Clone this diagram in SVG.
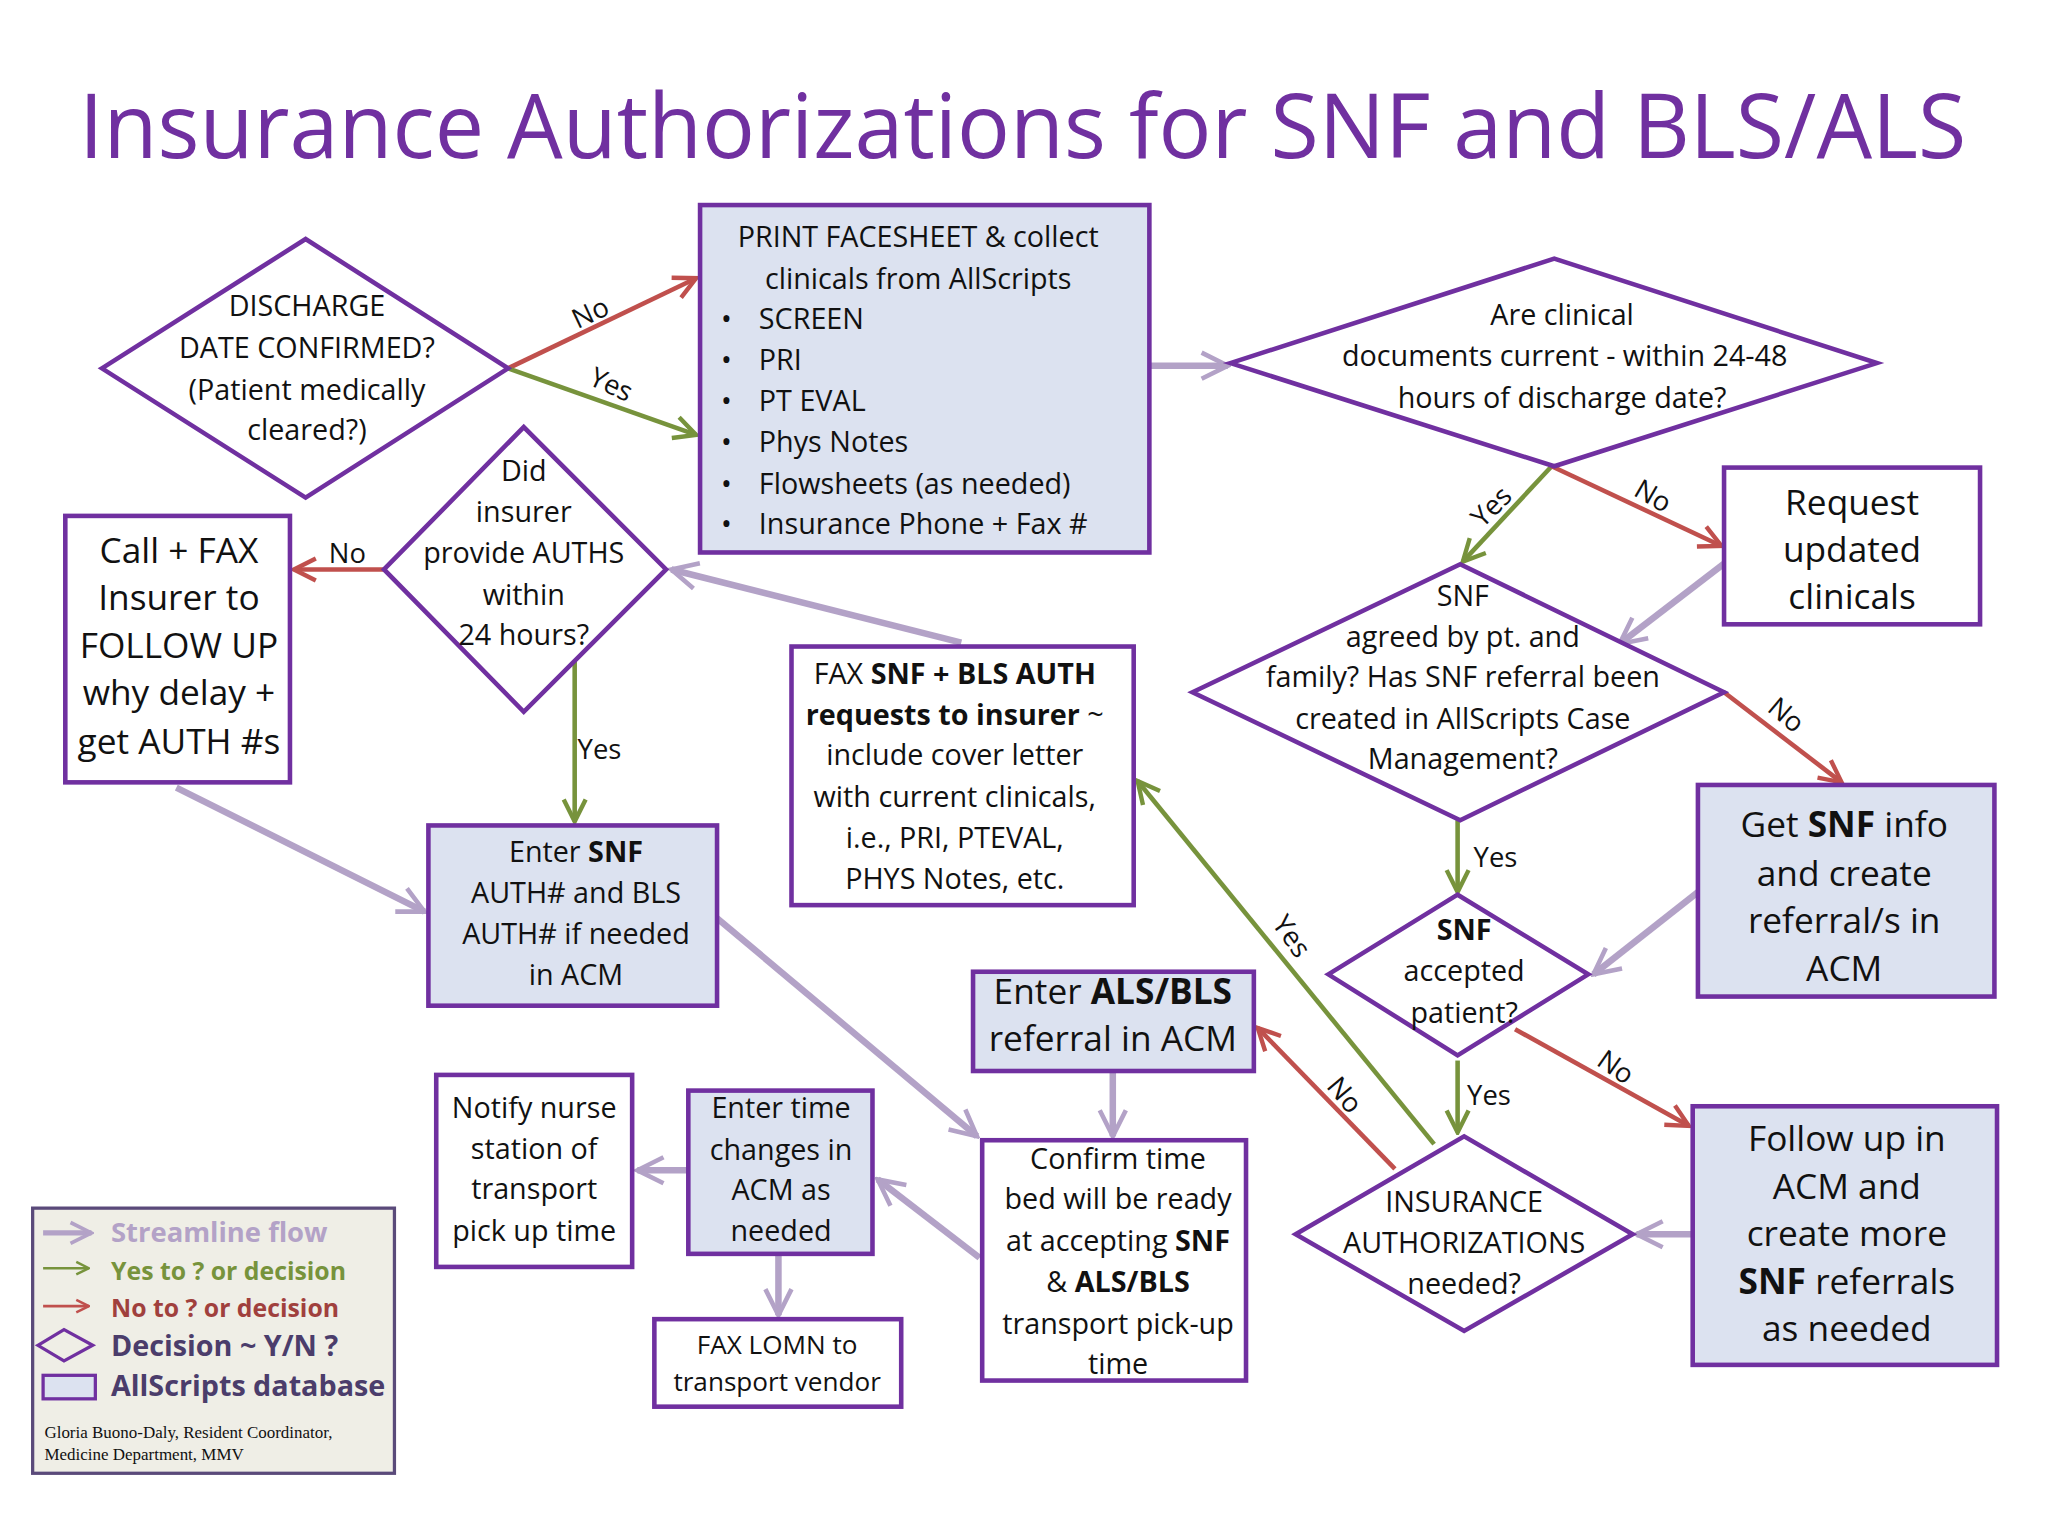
<svg xmlns="http://www.w3.org/2000/svg" width="2048" height="1536" viewBox="0 0 2048 1536">
<style>
text{font-family:"Open Sans","Liberation Sans",sans-serif;fill:#111;text-anchor:middle}
.n{fill:#fff;stroke:#7030a0;stroke-width:3.5}
.f{fill:#dce2f0;stroke:#7030a0;stroke-width:3.5}
.s{font-size:22px}.m{font-size:27px}
.r{stroke:#c0504d;stroke-width:3.5;fill:none;marker-end:url(#ar)}
.g{stroke:#77933c;stroke-width:3.5;fill:none;marker-end:url(#ag)}
.l{stroke:#b3a2c7;stroke-width:5;fill:none;marker-end:url(#al)}
.lb{font-size:21px}
b,.b{font-weight:bold}
</style>
<defs>
<marker id="ar" viewBox="0 0 10 10" refX="9" refY="5" markerWidth="6" markerHeight="6" orient="auto" markerUnits="strokeWidth"><path d="M1,1 L9,5 L1,9" fill="none" stroke="#c0504d" stroke-width="1.6"/></marker>
<marker id="ag" viewBox="0 0 10 10" refX="9" refY="5" markerWidth="6" markerHeight="6" orient="auto" markerUnits="strokeWidth"><path d="M1,1 L9,5 L1,9" fill="none" stroke="#77933c" stroke-width="1.6"/></marker>
<marker id="al" viewBox="0 0 10 10" refX="9" refY="5" markerWidth="5" markerHeight="5" orient="auto" markerUnits="strokeWidth"><path d="M1,1 L9,5 L1,9" fill="none" stroke="#b3a2c7" stroke-width="1.4"/></marker>
</defs>
<rect width="2048" height="1536" fill="#fff"/>
<g transform="scale(1.3061)">
<text x="783" y="121" style="font-size:68px;fill:#7030a0" textLength="1445" lengthAdjust="spacingAndGlyphs">Insurance Authorizations for SNF and BLS/ALS</text>

<g id="connectors">
<path class="r" d="M389,282 L533,213"/><text class="lb" transform="translate(455,246) rotate(-25)">No</text>
<path class="g" d="M389,282 L533,333"/><text class="lb" transform="translate(465,301) rotate(25)">Yes</text>
<path class="l" d="M880,280 L940,280"/>
<path class="g" d="M1188,357 L1120,430"/><text class="lb" transform="translate(1147,393) rotate(-45)">Yes</text>
<path class="r" d="M1188,357 L1318,418"/><text class="lb" transform="translate(1262,386) rotate(30)">No</text>
<path class="l" d="M1322,430 L1240,493"/>
<path class="r" d="M1320,530 L1410,599"/><text class="lb" transform="translate(1363,553) rotate(40)">No</text>
<path class="g" d="M1116,628 L1116,683"/><text class="lb" x="1145" y="664">Yes</text>
<path class="l" d="M1300,683 L1220,746"/>
<path class="r" d="M1160,788 L1293,862"/><text class="lb" transform="translate(1233,823) rotate(35)">No</text>
<path class="g" d="M1116,812 L1116,867"/><text class="lb" x="1140" y="846">Yes</text>
<path class="l" d="M1295,945 L1253,945"/>
<path class="r" d="M1068,895 L963,787"/><text class="lb" transform="translate(1024,843) rotate(50)">No</text>
<path class="g" d="M1098,876 L871,598"/><text class="lb" transform="translate(983,721) rotate(55)">Yes</text>
<path class="l" d="M736,492 L514,436"/>
<path class="r" d="M294,436 L225,436"/><text class="lb" x="266" y="431">No</text>
<path class="g" d="M440,505 L440,629"/><text class="lb" x="459" y="581">Yes</text>
<path class="l" d="M135,603 L325,698"/>
<path class="l" d="M549,703 L748,870"/>
<path class="l" d="M852,820 L852,870"/>
<path class="l" d="M750,963 L672,903"/>
<path class="l" d="M527,896 L488,896"/>
<path class="l" d="M596,960 L596,1007"/>
</g>

<g id="d1"><polygon class="n" points="78,282 234,183 389,282 234,381"/>
<text class="s"><tspan x="235" y="242">DISCHARGE</tspan><tspan x="235" y="274">DATE CONFIRMED?</tspan><tspan x="235" y="306">(Patient medically</tspan><tspan x="235" y="337">cleared?)</tspan></text></g>

<g id="b1"><rect class="f" x="536" y="157" width="344" height="266"/>
<text class="s"><tspan x="703" y="189">PRINT FACESHEET &amp; collect</tspan><tspan x="703" y="221">clinicals from AllScripts</tspan></text>
<text class="s" style="text-anchor:start"><tspan x="552" y="252">•</tspan><tspan x="581" y="252">SCREEN</tspan><tspan x="552" y="283">•</tspan><tspan x="581" y="283">PRI</tspan><tspan x="552" y="315">•</tspan><tspan x="581" y="315">PT EVAL</tspan><tspan x="552" y="346">•</tspan><tspan x="581" y="346">Phys Notes</tspan><tspan x="552" y="378">•</tspan><tspan x="581" y="378">Flowsheets (as needed)</tspan><tspan x="552" y="409">•</tspan><tspan x="581" y="409">Insurance Phone + Fax #</tspan></text></g>

<g id="d2"><polygon class="n" points="942,278 1190,198 1437,278 1190,357"/>
<text class="s"><tspan x="1196" y="249">Are clinical</tspan><tspan x="1198" y="280">documents current - within 24-48</tspan><tspan x="1196" y="312">hours of discharge date?</tspan></text></g>

<g id="req"><rect class="n" x="1320" y="358" width="196" height="120"/>
<text class="m"><tspan x="1418" y="394">Request</tspan><tspan x="1418" y="430">updated</tspan><tspan x="1418" y="466">clinicals</tspan></text></g>

<g id="d3"><polygon class="n" points="294,436 401,327 510,436 401,545"/>
<text class="s"><tspan x="401" y="368">Did</tspan><tspan x="401" y="400">insurer</tspan><tspan x="401" y="431">provide AUTHS</tspan><tspan x="401" y="463">within</tspan><tspan x="401" y="494">24 hours?</tspan></text></g>

<g id="call"><rect class="n" x="50" y="395" width="172" height="204"/>
<text class="m"><tspan x="137" y="431">Call + FAX</tspan><tspan x="137" y="467">Insurer to</tspan><tspan x="137" y="504">FOLLOW UP</tspan><tspan x="137" y="540">why delay +</tspan><tspan x="137" y="577">get AUTH #s</tspan></text></g>

<g id="fax"><rect class="n" x="606" y="495" width="262" height="198"/>
<text class="s"><tspan x="731" y="524">FAX <tspan class="b">SNF + BLS AUTH</tspan></tspan><tspan x="731" y="555"><tspan class="b">requests to insurer</tspan> ~</tspan><tspan x="731" y="586">include cover letter</tspan><tspan x="731" y="618">with current clinicals,</tspan><tspan x="731" y="649">i.e., PRI, PTEVAL,</tspan><tspan x="731" y="681">PHYS Notes,  etc.</tspan></text></g>

<g id="d4"><polygon class="n" points="913,530 1118,432 1320,530 1118,628"/>
<text class="s"><tspan x="1120" y="464">SNF</tspan><tspan x="1120" y="495">agreed by pt. and</tspan><tspan x="1120" y="526">family? Has SNF referral been</tspan><tspan x="1120" y="558">created in AllScripts Case</tspan><tspan x="1120" y="589">Management?</tspan></text></g>

<g id="getsnf"><rect class="f" x="1300" y="601" width="227" height="162"/>
<text class="m"><tspan x="1412" y="641">Get <tspan class="b">SNF</tspan> info</tspan><tspan x="1412" y="678">and create</tspan><tspan x="1412" y="714">referral/s in</tspan><tspan x="1412" y="751">ACM</tspan></text></g>

<g id="entersnf"><rect class="f" x="328" y="632" width="221" height="138"/>
<text class="s"><tspan x="441" y="660">Enter <tspan class="b">SNF</tspan></tspan><tspan x="441" y="691">AUTH# and BLS</tspan><tspan x="441" y="723">AUTH# if needed</tspan><tspan x="441" y="754">in ACM</tspan></text></g>

<g id="d5"><polygon class="n" points="1017,746 1116,685 1216,746 1116,808"/>
<text class="s"><tspan x="1121" y="720" class="b">SNF</tspan><tspan x="1121" y="751">accepted</tspan><tspan x="1121" y="783">patient?</tspan></text></g>

<g id="enterals"><rect class="f" x="745" y="744" width="215" height="76"/>
<text class="m"><tspan x="852" y="769">Enter <tspan class="b">ALS/BLS</tspan></tspan><tspan x="852" y="805">referral in ACM</tspan></text></g>

<g id="follow"><rect class="f" x="1296" y="847" width="233" height="198"/>
<text class="m"><tspan x="1414" y="881">Follow up in</tspan><tspan x="1414" y="918">ACM and</tspan><tspan x="1414" y="954">create more</tspan><tspan x="1414" y="991"><tspan class="b">SNF</tspan> referrals</tspan><tspan x="1414" y="1027">as needed</tspan></text></g>

<g id="d6"><polygon class="n" points="992,945 1121,870 1250,945 1121,1019"/>
<text class="s"><tspan x="1121" y="928">INSURANCE</tspan><tspan x="1121" y="959">AUTHORIZATIONS</tspan><tspan x="1121" y="991">needed?</tspan></text></g>

<g id="confirm"><rect class="n" x="752" y="873" width="202" height="184"/>
<text class="s"><tspan x="856" y="895">Confirm time</tspan><tspan x="856" y="926">bed will be ready</tspan><tspan x="856" y="958">at accepting <tspan class="b">SNF</tspan></tspan><tspan x="856" y="989">&amp; <tspan class="b">ALS/BLS</tspan></tspan><tspan x="856" y="1021">transport pick-up</tspan><tspan x="856" y="1052">time</tspan></text></g>

<g id="entertime"><rect class="f" x="527" y="835" width="141" height="125"/>
<text class="s"><tspan x="598" y="856">Enter time</tspan><tspan x="598" y="888">changes in</tspan><tspan x="598" y="919">ACM as</tspan><tspan x="598" y="950">needed</tspan></text></g>

<g id="notify"><rect class="n" x="334" y="823" width="150" height="147"/>
<text class="s"><tspan x="409" y="856">Notify nurse</tspan><tspan x="409" y="887">station  of</tspan><tspan x="409" y="918">transport</tspan><tspan x="409" y="950">pick up time</tspan></text></g>

<g id="lomn"><rect class="n" x="501" y="1010" width="189" height="67"/>
<text style="font-size:20px"><tspan x="595" y="1037">FAX LOMN to</tspan><tspan x="595" y="1065">transport vendor</tspan></text></g>

<g id="legend"><rect x="25" y="925" width="277" height="203" fill="#efeee6" stroke="#5a4a7a" stroke-width="2.5"/>
<path d="M33,944 L70,944" stroke="#b3a2c7" stroke-width="4" marker-end="url(#al)"/>
<path d="M33,971 L68,971" stroke="#77933c" stroke-width="2" marker-end="url(#ag)"/>
<path d="M33,1000 L68,1000" stroke="#c0504d" stroke-width="2" marker-end="url(#ar)"/>
<polygon points="29,1030 49,1018 71,1030 49,1042" fill="none" stroke="#7030a0" stroke-width="2.5"/>
<rect x="33" y="1053" width="40" height="18" fill="#dce2f0" stroke="#7030a0" stroke-width="2.5"/>
<g style="text-anchor:start;font-weight:bold">
<text x="85" y="951" style="text-anchor:start;font-size:21px;fill:#b3a2c7;font-weight:bold">Streamline flow</text>
<text x="85" y="980" style="text-anchor:start;font-size:19px;fill:#77933c;font-weight:bold">Yes to ? or decision</text>
<text x="85" y="1008" style="text-anchor:start;font-size:19px;fill:#a0403d;font-weight:bold">No to ? or decision</text>
<text x="85" y="1038" style="text-anchor:start;font-size:22px;fill:#4b3d6b;font-weight:bold">Decision ~ Y/N ?</text>
<text x="85" y="1069" style="text-anchor:start;font-size:22px;fill:#4b3d6b;font-weight:bold">AllScripts database</text>
</g>
<text x="34" y="1101" style="text-anchor:start;font-family:'Liberation Serif',serif;font-size:13px">Gloria  Buono-Daly,  Resident Coordinator,</text>
<text x="34" y="1118" style="text-anchor:start;font-family:'Liberation Serif',serif;font-size:13px">Medicine  Department, MMV</text>
</g>
</g>
</svg>
